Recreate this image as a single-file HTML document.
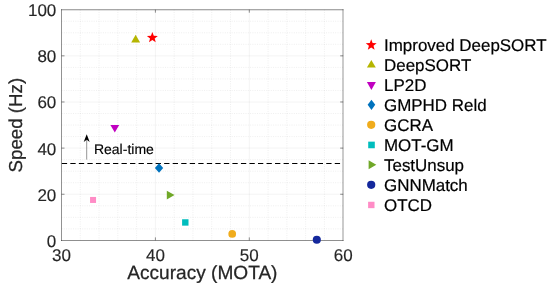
<!DOCTYPE html>
<html><head><meta charset="utf-8"><title>Speed vs Accuracy</title>
<style>
html,body{margin:0;padding:0;background:#fff;}
svg{display:block;}
text{font-family:"Liberation Sans", Arial, Helvetica, sans-serif;text-rendering:geometricPrecision;}
</style></head><body>
<svg width="550" height="288" viewBox="0 0 550 288">
<rect x="0" y="0" width="550" height="288" fill="#ffffff"/>
<g stroke="#262626" fill="none">
<line x1="80.28" y1="9.7" x2="80.28" y2="240.4" stroke-width="0.6" stroke-opacity="0.13" stroke-dasharray="1 1.3"/>
<line x1="99.06" y1="9.7" x2="99.06" y2="240.4" stroke-width="0.6" stroke-opacity="0.13" stroke-dasharray="1 1.3"/>
<line x1="117.84" y1="9.7" x2="117.84" y2="240.4" stroke-width="0.6" stroke-opacity="0.13" stroke-dasharray="1 1.3"/>
<line x1="136.62" y1="9.7" x2="136.62" y2="240.4" stroke-width="0.6" stroke-opacity="0.13" stroke-dasharray="1 1.3"/>
<line x1="174.18" y1="9.7" x2="174.18" y2="240.4" stroke-width="0.6" stroke-opacity="0.13" stroke-dasharray="1 1.3"/>
<line x1="192.96" y1="9.7" x2="192.96" y2="240.4" stroke-width="0.6" stroke-opacity="0.13" stroke-dasharray="1 1.3"/>
<line x1="211.74" y1="9.7" x2="211.74" y2="240.4" stroke-width="0.6" stroke-opacity="0.13" stroke-dasharray="1 1.3"/>
<line x1="230.52" y1="9.7" x2="230.52" y2="240.4" stroke-width="0.6" stroke-opacity="0.13" stroke-dasharray="1 1.3"/>
<line x1="268.08" y1="9.7" x2="268.08" y2="240.4" stroke-width="0.6" stroke-opacity="0.13" stroke-dasharray="1 1.3"/>
<line x1="286.86" y1="9.7" x2="286.86" y2="240.4" stroke-width="0.6" stroke-opacity="0.13" stroke-dasharray="1 1.3"/>
<line x1="305.64" y1="9.7" x2="305.64" y2="240.4" stroke-width="0.6" stroke-opacity="0.13" stroke-dasharray="1 1.3"/>
<line x1="324.42" y1="9.7" x2="324.42" y2="240.4" stroke-width="0.6" stroke-opacity="0.13" stroke-dasharray="1 1.3"/>
<line x1="61.5" y1="228.87" x2="343.2" y2="228.87" stroke-width="0.6" stroke-opacity="0.13" stroke-dasharray="1 1.3"/>
<line x1="61.5" y1="217.33" x2="343.2" y2="217.33" stroke-width="0.6" stroke-opacity="0.13" stroke-dasharray="1 1.3"/>
<line x1="61.5" y1="205.80" x2="343.2" y2="205.80" stroke-width="0.6" stroke-opacity="0.13" stroke-dasharray="1 1.3"/>
<line x1="61.5" y1="182.73" x2="343.2" y2="182.73" stroke-width="0.6" stroke-opacity="0.13" stroke-dasharray="1 1.3"/>
<line x1="61.5" y1="171.19" x2="343.2" y2="171.19" stroke-width="0.6" stroke-opacity="0.13" stroke-dasharray="1 1.3"/>
<line x1="61.5" y1="159.66" x2="343.2" y2="159.66" stroke-width="0.6" stroke-opacity="0.13" stroke-dasharray="1 1.3"/>
<line x1="61.5" y1="136.59" x2="343.2" y2="136.59" stroke-width="0.6" stroke-opacity="0.13" stroke-dasharray="1 1.3"/>
<line x1="61.5" y1="125.05" x2="343.2" y2="125.05" stroke-width="0.6" stroke-opacity="0.13" stroke-dasharray="1 1.3"/>
<line x1="61.5" y1="113.51" x2="343.2" y2="113.51" stroke-width="0.6" stroke-opacity="0.13" stroke-dasharray="1 1.3"/>
<line x1="61.5" y1="90.44" x2="343.2" y2="90.44" stroke-width="0.6" stroke-opacity="0.13" stroke-dasharray="1 1.3"/>
<line x1="61.5" y1="78.91" x2="343.2" y2="78.91" stroke-width="0.6" stroke-opacity="0.13" stroke-dasharray="1 1.3"/>
<line x1="61.5" y1="67.38" x2="343.2" y2="67.38" stroke-width="0.6" stroke-opacity="0.13" stroke-dasharray="1 1.3"/>
<line x1="61.5" y1="44.31" x2="343.2" y2="44.31" stroke-width="0.6" stroke-opacity="0.13" stroke-dasharray="1 1.3"/>
<line x1="61.5" y1="32.77" x2="343.2" y2="32.77" stroke-width="0.6" stroke-opacity="0.13" stroke-dasharray="1 1.3"/>
<line x1="61.5" y1="21.24" x2="343.2" y2="21.24" stroke-width="0.6" stroke-opacity="0.13" stroke-dasharray="1 1.3"/>
<line x1="155.40" y1="9.7" x2="155.40" y2="240.4" stroke-width="0.6" stroke-opacity="0.09"/>
<line x1="249.30" y1="9.7" x2="249.30" y2="240.4" stroke-width="0.6" stroke-opacity="0.09"/>
<line x1="61.5" y1="194.26" x2="343.2" y2="194.26" stroke-width="0.6" stroke-opacity="0.09"/>
<line x1="61.5" y1="148.12" x2="343.2" y2="148.12" stroke-width="0.6" stroke-opacity="0.09"/>
<line x1="61.5" y1="101.98" x2="343.2" y2="101.98" stroke-width="0.6" stroke-opacity="0.09"/>
<line x1="61.5" y1="55.84" x2="343.2" y2="55.84" stroke-width="0.6" stroke-opacity="0.09"/>
</g>
<line x1="61.8" y1="163.5" x2="343.2" y2="163.5" stroke="#000" stroke-width="1.05" stroke-dasharray="5.3 3.23"/>
<g stroke="#262626" stroke-width="0.7" fill="none" stroke-opacity="0.75">
<line x1="61.5" y1="9.3" x2="61.5" y2="241" stroke-width="0.9" stroke-opacity="0.56"/>
<line x1="61" y1="9.8" x2="343.5" y2="9.8" stroke-width="1.1" stroke-opacity="0.54"/>
<line x1="343" y1="9.3" x2="343" y2="241" stroke-width="1.2" stroke-opacity="0.4"/>
<line x1="61" y1="240.5" x2="343.5" y2="240.5" stroke-width="0.9" stroke-opacity="0.58"/>
<line x1="155.40" y1="240.4" x2="155.40" y2="237.4"/>
<line x1="155.40" y1="9.7" x2="155.40" y2="12.7"/>
<line x1="249.30" y1="240.4" x2="249.30" y2="237.4"/>
<line x1="249.30" y1="9.7" x2="249.30" y2="12.7"/>
<line x1="61.5" y1="194.26" x2="64.5" y2="194.26"/>
<line x1="343.2" y1="194.26" x2="340.2" y2="194.26"/>
<line x1="61.5" y1="148.12" x2="64.5" y2="148.12"/>
<line x1="343.2" y1="148.12" x2="340.2" y2="148.12"/>
<line x1="61.5" y1="101.98" x2="64.5" y2="101.98"/>
<line x1="343.2" y1="101.98" x2="340.2" y2="101.98"/>
<line x1="61.5" y1="55.84" x2="64.5" y2="55.84"/>
<line x1="343.2" y1="55.84" x2="340.2" y2="55.84"/>
</g>
<g font-size="17" fill="#262626" stroke="#262626" stroke-width="0.15">
<text x="56.3" y="246.80" text-anchor="end">0</text>
<text x="56.3" y="200.66" text-anchor="end">20</text>
<text x="56.3" y="154.52" text-anchor="end">40</text>
<text x="56.3" y="108.38" text-anchor="end">60</text>
<text x="56.3" y="62.24" text-anchor="end">80</text>
<text x="56.3" y="16.10" text-anchor="end">100</text>
<text x="61.50" y="261.35" text-anchor="middle">30</text>
<text x="155.40" y="261.35" text-anchor="middle">40</text>
<text x="249.30" y="261.35" text-anchor="middle">50</text>
<text x="343.20" y="261.35" text-anchor="middle">60</text>
</g>
<text x="202.35" y="279.0" font-size="19.1" fill="#262626" stroke="#262626" stroke-width="0.25" text-anchor="middle">Accuracy (MOTA)</text>
<text transform="translate(22.2 125.15) rotate(-90)" font-size="18.7" fill="#262626" stroke="#262626" stroke-width="0.25" text-anchor="middle">Speed (Hz)</text>
<line x1="86.7" y1="159.6" x2="86.7" y2="140" stroke="#7a7a7a" stroke-width="0.8"/>
<polygon points="86.7,134.2 89.7,141.9 86.7,139.8 83.7,141.9" fill="#000"/>
<text x="93.95" y="154.4" font-size="14" fill="#000" stroke="#000" stroke-width="0.15">Real-time</text>
<g>
<polygon points="152.35,31.95 153.77,35.75 157.82,35.92 154.65,38.45 155.73,42.35 152.35,40.12 148.97,42.35 150.05,38.45 146.88,35.92 150.93,35.75" fill="#FF0000"/>
<polygon points="135.65,34.70 140.10,42.60 131.20,42.60" fill="#B5B500"/>
<polygon points="114.80,132.40 119.20,124.90 110.40,124.90" fill="#C000C0"/>
<polygon points="159.05,163.35 163.20,168.00 159.05,172.65 154.90,168.00" fill="#0072BD"/>
<circle cx="232.20" cy="233.90" r="3.85" fill="#F0AC1C"/>
<rect x="182.10" y="219.25" width="6.4" height="6.4" fill="#00BDBD"/>
<polygon points="174.50,195.10 166.80,190.70 166.80,199.50" fill="#70A828"/>
<circle cx="316.80" cy="239.80" r="4.05" fill="#14289C"/>
<rect x="90.05" y="196.95" width="6.0" height="6.0" fill="#FF8CC6"/>
</g>
<g font-size="16.95" fill="#000" stroke="#000" stroke-width="0.2">
<text x="384.0" y="50.85">Improved DeepSORT</text>
<text x="384.0" y="70.85">DeepSORT</text>
<text x="384.0" y="90.85">LP2D</text>
<text x="384.0" y="110.85">GMPHD Reld</text>
<text x="384.0" y="130.85">GCRA</text>
<text x="384.0" y="150.85">MOT-GM</text>
<text x="384.0" y="170.85">TestUnsup</text>
<text x="384.0" y="190.85">GNNMatch</text>
<text x="384.0" y="210.85">OTCD</text>
</g>
<g>
<polygon points="371.20,39.25 372.62,43.05 376.67,43.22 373.50,45.75 374.58,49.65 371.20,47.41 367.82,49.65 368.90,45.75 365.73,43.22 369.78,43.05" fill="#FF0000"/>
<polygon points="371.35,59.90 375.80,67.50 366.90,67.50" fill="#B5B500"/>
<polygon points="371.38,89.90 375.85,82.00 366.90,82.00" fill="#C000C0"/>
<polygon points="371.45,99.75 375.25,104.85 371.45,109.95 367.65,104.85" fill="#0072BD"/>
<circle cx="371.20" cy="124.78" r="4.10" fill="#F0AC1C"/>
<rect x="368.20" y="141.65" width="6.6" height="6.6" fill="#00BDBD"/>
<polygon points="376.30,164.75 368.60,160.30 368.60,169.20" fill="#70A828"/>
<circle cx="371.20" cy="184.79" r="4.10" fill="#14289C"/>
<rect x="368.10" y="201.76" width="6.4" height="6.4" fill="#FF8CC6"/>
</g>
</svg></body></html>
